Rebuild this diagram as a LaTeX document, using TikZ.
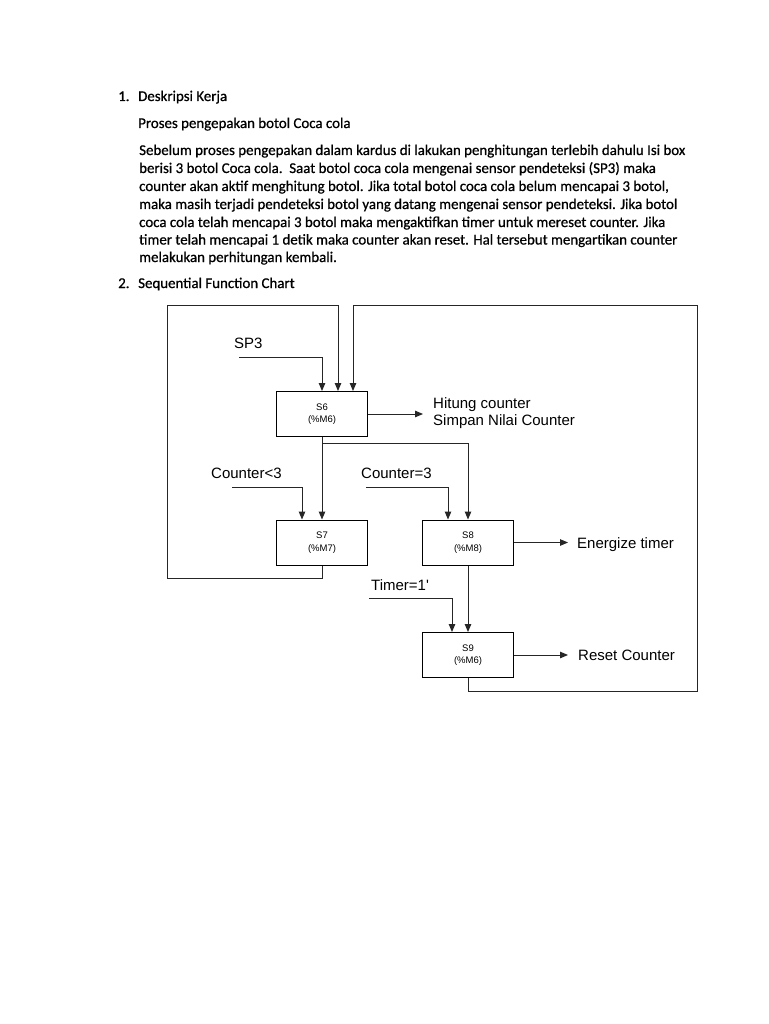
\documentclass[tikz,border=0pt]{standalone}
\usepackage{fontspec}
\setmainfont{Carlito}
\newfontfamily\docf{Carlito}[FakeBold=0.7]
\newfontfamily\arialf{Liberation Sans}
\usetikzlibrary{arrows.meta}
\begin{document}
\begin{tikzpicture}[x=1pt,y=-1pt,
  stepbox/.style={draw=black, line width=1pt, minimum width=91pt, minimum height=45pt, inner sep=0pt, align=center, font=\arialf\fontsize{9.5}{12.5}\selectfont},
  lbl/.style={anchor=base west, inner sep=0pt, font=\arialf\fontsize{15}{16.5}\selectfont},
  doc/.style={anchor=base west, inner sep=0pt, font=\docf\fontsize{14.9}{17.9}\selectfont},
  conn/.style={line width=1pt, draw=black!85},
  arr/.style={conn, -{Triangle[length=8pt,width=6.5pt]}},
]
\useasboundingbox[fill=white] (0,0) rectangle (768,1024);

% document text
\node[doc] (n1) at (118,101) {1.};
\node[doc] (h1) at (138,101) {Deskripsi Kerja};
\node[doc] (h2) at (138,128) {Proses pengepakan botol Coca cola};
\node[doc] (p1) at (139,155) {Sebelum proses pengepakan dalam kardus di lakukan penghitungan terlebih dahulu Isi box};
\node[doc] (p2) at (139,173) {berisi 3 botol Coca cola.\ \ Saat botol coca cola mengenai sensor pendeteksi (SP3) maka};
\node[doc] (p3) at (139,191) {counter akan aktif menghitung botol. Jika total botol coca cola belum mencapai 3 botol,};
\node[doc] (p4) at (139,209) {maka masih terjadi pendeteksi botol yang datang mengenai sensor pendeteksi. Jika botol};
\node[doc] (p5) at (139,227) {coca cola telah mencapai 3 botol maka mengaktifkan timer untuk mereset counter. Jika};
\node[doc] (p6) at (139,244.5) {timer telah mencapai 1 detik maka counter akan reset. Hal tersebut mengartikan counter};
\node[doc] (p7) at (139,262) {melakukan perhitungan kembali.};
\node[doc] (n2) at (118,288) {2.};
\node[doc] (h3) at (138,288) {Sequential Function Chart};

% steps
\node[stepbox] (S6) at (322,414) {S6\\(\%M6)};
\node[stepbox] (S7) at (322,542.5) {S7\\(\%M7)};
\node[stepbox] (S8) at (468,542.5) {S8\\(\%M8)};
\node[stepbox] (S9) at (468,655) {S9\\(\%M6)};

% labels
\node[lbl] (lsp3) at (234,348) {SP3};
\node[lbl] (llt) at (211,478) {Counter<3};
\node[lbl] (leq) at (361,478) {Counter=3};
\node[lbl] (ltm) at (371,590) {Timer=1\textquotesingle};
\node[lbl] (lhit) at (433,408) {Hitung counter};
\node[lbl] (lsim) at (433,425) {Simpan Nilai Counter};
\node[lbl] (len) at (577,548) {Energize timer};
\node[lbl] (lrs) at (578,660) {Reset Counter};

% coordinates
\coordinate (sp3a) at (239,357);
\coordinate (lpa) at (167,578);
\coordinate (lpb) at (167,305);
\coordinate (rpb) at (697,691);
\coordinate (rpc) at (697,305);
\coordinate (br) at (322,443);
\coordinate (clt) at (232,487);
\coordinate (ceq) at (366,487);
\coordinate (ctm) at (369,598);
\coordinate (a6) at (423,414);
\coordinate (a8) at (568,542.5);
\coordinate (a9) at (568,655);

% connectors
\draw[arr] (sp3a) -| (S6.north);
\draw[arr] (S7.south) |- (lpa) -- (lpb) -| ([xshift=16pt]S6.north);
\draw[arr] (S9.south) |- (rpb) -- (rpc) -| ([xshift=31pt]S6.north);
\draw[arr] (S6.south) -- (S7.north);
\draw[arr] (br) -| (S8.north);
\draw[arr] (clt) -| ([xshift=-20pt]S7.north);
\draw[arr] (ceq) -| ([xshift=-20pt]S8.north);
\draw[arr] (S8.south) -- (S9.north);
\draw[arr] (ctm) -| ([xshift=-16pt]S9.north);
\draw[arr] (S6.east) -- (a6);
\draw[arr] (S8.east) -- (a8);
\draw[arr] (S9.east) -- (a9);
\end{tikzpicture}
\end{document}
